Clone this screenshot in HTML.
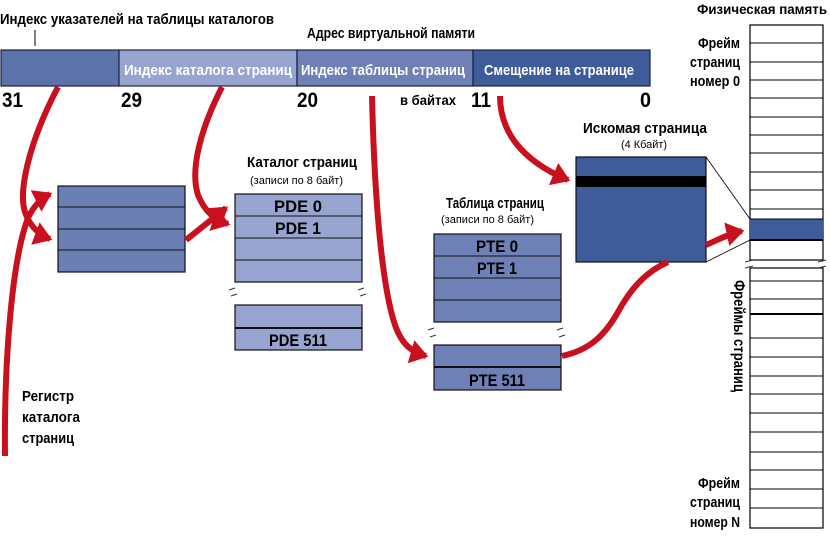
<!DOCTYPE html>
<html><head><meta charset="utf-8"><style>
html,body{margin:0;padding:0;background:#fff;}
svg{display:block;}
text{font-family:"Liberation Sans Narrow","Liberation Sans",sans-serif;font-weight:bold;fill:#000;}
</style></head><body>
<svg width="830" height="548" viewBox="0 0 830 548" xmlns="http://www.w3.org/2000/svg">
<defs>
<marker id="ah" markerWidth="4" markerHeight="4" refX="2.6" refY="2" orient="auto" markerUnits="strokeWidth">
<path d="M0,0 L3,2 L0,4 Z" fill="#c8101e"/>
</marker>
</defs>

<text x="0" y="24" font-size="15" textLength="274" lengthAdjust="spacingAndGlyphs">Индекс указателей на таблицы каталогов</text>
<line x1="35" y1="30" x2="35" y2="46" stroke="#000" stroke-width="1"/>
<text x="307" y="38" font-size="15" textLength="168" lengthAdjust="spacingAndGlyphs">Адрес виртуальной памяти</text>
<text x="697" y="14" font-size="14" textLength="130" lengthAdjust="spacingAndGlyphs">Физическая память</text>

<rect x="1" y="50" width="118" height="36" fill="#5b73aa" stroke="#1a2240" stroke-width="1.2"/>
<rect x="119" y="50" width="178" height="36" fill="#97a4d0" stroke="#1a2240" stroke-width="1.2"/>
<rect x="297" y="50" width="176" height="36" fill="#6f80b6" stroke="#1a2240" stroke-width="1.2"/>
<rect x="473" y="50" width="177" height="36" fill="#3e5b9a" stroke="#1a2240" stroke-width="1.2"/>
<text x="124" y="75" font-size="15" style="fill:#fff" textLength="168" lengthAdjust="spacingAndGlyphs">Индекс каталога страниц</text>
<text x="301" y="75" font-size="15" style="fill:#fff" textLength="164" lengthAdjust="spacingAndGlyphs">Индекс таблицы страниц</text>
<text x="484" y="75" font-size="15" style="fill:#fff" textLength="150" lengthAdjust="spacingAndGlyphs">Смещение на странице</text>

<text x="2" y="107" font-size="21" textLength="21" lengthAdjust="spacingAndGlyphs">31</text>
<text x="121" y="107" font-size="21" textLength="21" lengthAdjust="spacingAndGlyphs">29</text>
<text x="297" y="107" font-size="21" textLength="21" lengthAdjust="spacingAndGlyphs">20</text>
<text x="400" y="105" font-size="14" textLength="56" lengthAdjust="spacingAndGlyphs">в байтах</text>
<text x="471" y="107" font-size="21" textLength="20" lengthAdjust="spacingAndGlyphs">11</text>
<text x="640" y="107" font-size="21" textLength="11" lengthAdjust="spacingAndGlyphs">0</text>

<rect x="58" y="186" width="127" height="86" fill="#6b7fb5" stroke="#111" stroke-width="1.2"/>
<line x1="58" y1="207" x2="185" y2="207" stroke="#111"/>
<line x1="58" y1="229" x2="185" y2="229" stroke="#111"/>
<line x1="58" y1="250" x2="185" y2="250" stroke="#111"/>
<text x="22" y="401" font-size="15" textLength="52" lengthAdjust="spacingAndGlyphs">Регистр</text>
<text x="22" y="422" font-size="15" textLength="58" lengthAdjust="spacingAndGlyphs">каталога</text>
<text x="22" y="443" font-size="15" textLength="52" lengthAdjust="spacingAndGlyphs">страниц</text>

<text x="247" y="167" font-size="15" textLength="110" lengthAdjust="spacingAndGlyphs">Каталог страниц</text>
<text x="250" y="184" font-size="11" style="font-weight:normal" textLength="93" lengthAdjust="spacingAndGlyphs">(записи по 8 байт)</text>
<rect x="235" y="194" width="127" height="88" fill="#97a4d0" stroke="#111" stroke-width="1.2"/>
<line x1="235" y1="216" x2="362" y2="216" stroke="#111"/>
<line x1="235" y1="238" x2="362" y2="238" stroke="#111"/>
<line x1="235" y1="260" x2="362" y2="260" stroke="#111"/>
<rect x="235" y="305" width="127" height="45" fill="#97a4d0" stroke="#111" stroke-width="1.2"/>
<line x1="235" y1="328" x2="362" y2="328" stroke="#111" stroke-width="2"/>
<text x="298" y="212" font-size="17" text-anchor="middle" textLength="48" lengthAdjust="spacingAndGlyphs">PDE 0</text>
<text x="298" y="234" font-size="17" text-anchor="middle" textLength="46" lengthAdjust="spacingAndGlyphs">PDE 1</text>
<text x="298" y="346" font-size="17" text-anchor="middle" textLength="58" lengthAdjust="spacingAndGlyphs">PDE 511</text>
<path d="M229,290 l6,-2 M231,296 l6,-2 M358,290 l6,-2 M360,296 l6,-2" stroke="#333" stroke-width="1"/>

<text x="446" y="208" font-size="15" textLength="98" lengthAdjust="spacingAndGlyphs">Таблица страниц</text>
<text x="441" y="223" font-size="11" style="font-weight:normal" textLength="93" lengthAdjust="spacingAndGlyphs">(записи по 8 байт)</text>
<rect x="434" y="234" width="127" height="88" fill="#6f80b6" stroke="#111" stroke-width="1.2"/>
<line x1="434" y1="256" x2="561" y2="256" stroke="#111"/>
<line x1="434" y1="278" x2="561" y2="278" stroke="#111"/>
<line x1="434" y1="300" x2="561" y2="300" stroke="#111"/>
<rect x="434" y="345" width="127" height="45" fill="#6f80b6" stroke="#111" stroke-width="1.2"/>
<line x1="434" y1="367" x2="561" y2="367" stroke="#111" stroke-width="2"/>
<text x="497" y="252" font-size="17" text-anchor="middle" textLength="42" lengthAdjust="spacingAndGlyphs">PTE 0</text>
<text x="497" y="274" font-size="17" text-anchor="middle" textLength="40" lengthAdjust="spacingAndGlyphs">PTE 1</text>
<text x="497" y="386" font-size="17" text-anchor="middle" textLength="56" lengthAdjust="spacingAndGlyphs">PTE 511</text>
<path d="M428,330 l6,-2 M430,337 l6,-2 M557,330 l6,-2 M559,337 l6,-2" stroke="#333" stroke-width="1"/>

<text x="583" y="133" font-size="15" textLength="124" lengthAdjust="spacingAndGlyphs">Искомая страница</text>
<text x="621" y="148" font-size="11" style="font-weight:normal" textLength="46" lengthAdjust="spacingAndGlyphs">(4 Кбайт)</text>
<rect x="576" y="157" width="130" height="105" fill="#3e5b9a" stroke="#111" stroke-width="1.2"/>
<rect x="576" y="176" width="130" height="11" fill="#000"/>
<line x1="706" y1="157" x2="750" y2="219" stroke="#000" stroke-width="0.8"/>
<line x1="706" y1="262" x2="750" y2="240" stroke="#000" stroke-width="0.8"/>

<rect x="750" y="25" width="73" height="235" fill="#fff" stroke="#000" stroke-width="1.2"/>
<rect x="750" y="219" width="73" height="21" fill="#3e5b9a"/>
<g stroke="#000" stroke-width="1">
<line x1="750" y1="43" x2="823" y2="43"/><line x1="750" y1="62" x2="823" y2="62"/>
<line x1="750" y1="80" x2="823" y2="80"/><line x1="750" y1="98" x2="823" y2="98"/>
<line x1="750" y1="117" x2="823" y2="117"/><line x1="750" y1="135" x2="823" y2="135"/>
<line x1="750" y1="153" x2="823" y2="153"/><line x1="750" y1="172" x2="823" y2="172"/>
<line x1="750" y1="190" x2="823" y2="190"/><line x1="750" y1="209" x2="823" y2="209"/>
<line x1="750" y1="219" x2="823" y2="219"/><line x1="750" y1="240" x2="823" y2="240" stroke-width="2"/>
</g>
<rect x="750" y="268" width="73" height="260" fill="#fff" stroke="#000" stroke-width="1.2"/>
<g stroke="#000" stroke-width="1">
<line x1="750" y1="281" x2="823" y2="281"/><line x1="750" y1="299" x2="823" y2="299"/>
<line x1="750" y1="314" x2="823" y2="314" stroke-width="2"/><line x1="750" y1="338" x2="823" y2="338"/>
<line x1="750" y1="357" x2="823" y2="357"/><line x1="750" y1="376" x2="823" y2="376"/>
<line x1="750" y1="394" x2="823" y2="394"/><line x1="750" y1="413" x2="823" y2="413"/>
<line x1="750" y1="432" x2="823" y2="432"/><line x1="750" y1="452" x2="823" y2="452"/>
<line x1="750" y1="470" x2="823" y2="470"/><line x1="750" y1="489" x2="823" y2="489"/>
<line x1="750" y1="508" x2="823" y2="508"/>
</g>
<path d="M745,262 l8,-2 M745,268 l8,-2 M818,262 l8,-2 M818,268 l8,-2" stroke="#333" stroke-width="1"/>
<text x="740" y="48" font-size="15" text-anchor="end" textLength="42" lengthAdjust="spacingAndGlyphs">Фрейм</text>
<text x="740" y="67" font-size="15" text-anchor="end" textLength="50" lengthAdjust="spacingAndGlyphs">страниц</text>
<text x="740" y="86" font-size="15" text-anchor="end" textLength="50" lengthAdjust="spacingAndGlyphs">номер 0</text>
<text x="740" y="488" font-size="15" text-anchor="end" textLength="42" lengthAdjust="spacingAndGlyphs">Фрейм</text>
<text x="740" y="507" font-size="15" text-anchor="end" textLength="50" lengthAdjust="spacingAndGlyphs">страниц</text>
<text x="740" y="527" font-size="15" text-anchor="end" textLength="50" lengthAdjust="spacingAndGlyphs">номер N</text>
<text transform="translate(734,280) rotate(90)" font-size="16" textLength="112" lengthAdjust="spacingAndGlyphs">Фреймы страниц</text>

<g fill="none" stroke="#c8101e" stroke-width="6" stroke-linecap="butt">
<path d="M58,87 C30,140 18,190 25,212 C30,228 42,236 50,239" marker-end="url(#ah)"/>
<path d="M5,456 C4,360 12,260 28,218 C34,205 42,198 50,194" marker-end="url(#ah)"/>
<path d="M186,240 L226,208" marker-end="url(#ah)"/>
<path d="M222,87 C200,130 190,170 198,195 C205,212 215,220 228,224" marker-end="url(#ah)"/>
<path d="M372,96 C374,180 380,280 395,325 C402,345 412,352 426,356" marker-end="url(#ah)"/>
<path d="M562,356 C590,350 605,335 618,312 C630,290 645,272 668,262"/>
<path d="M706,245 C718,240 728,234 742,231" marker-end="url(#ah)"/>
<path d="M500,96 C500,130 520,160 568,180" marker-end="url(#ah)"/>
</g>
</svg>
</body></html>
